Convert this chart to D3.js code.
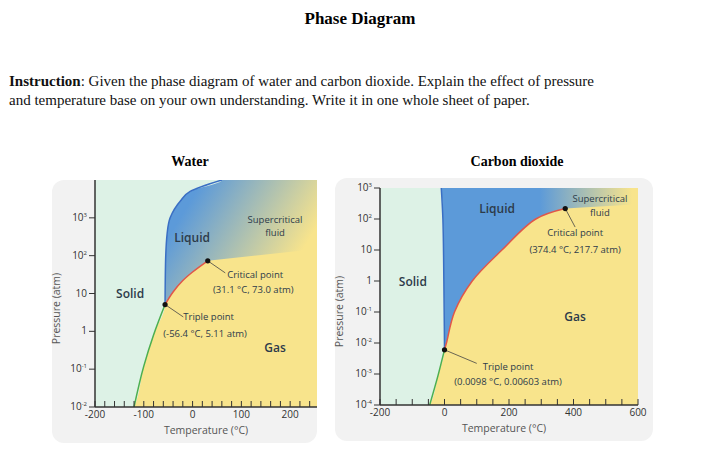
<!DOCTYPE html>
<html><head><meta charset="utf-8">
<script src="https://cdn.jsdelivr.net/npm/d3@7.9.0/dist/d3.min.js"></script>
<style>body{margin:0;background:#fff}svg text{font-family:"Open Sans",sans-serif}</style>
</head><body><svg id="c" width="720" height="476"></svg>
<script>
// left panel ("Water" title, CO2 numbers as in the picture)
const leftSolidGas = [[-120, 0.01], [-100, 0.12], [-80, 0.8], [-56.4, 5.11]];
const leftSolidLiquid = [[-56.4, 5.11], [-55.5, 60], [-52, 400], [-46, 1000], [-25, 2800], [-5, 5000], [60, 10000]];
const leftLiquidGas = [[-56.4, 5.11], [-40, 11], [-20, 22], [0, 37], [31.1, 73]];
const leftSuperEdge = [[255, 150]];
// right panel ("Carbon dioxide" title, water numbers)
const rightSolidGas = [[-46, 0.0001], [-20, 0.0009], [0.0098, 0.00603]];
const rightSolidLiquid = [[0.0098, 0.00603], [-2, 1], [-5, 100], [-10, 1000]];
const rightLiquidGas = [[0.0098, 0.00603], [6, 0.01], [31, 0.1], [86, 1], [178, 10], [283, 100], [374.4, 217.7]];
const rightSuperEdge = [[600, 300]];
const leftXTicks = [-200, -100, 0, 100, 200];
const leftYTicks = [-2, -1, 0, 1, 2, 3];
const rightXTicks = [-200, 0, 200, 400, 600];
const rightYTicks = [-4, -3, -2, -1, 0, 1, 2, 3];

const svg = d3.select('#c');
const C = {solid: '#ddf2e6', gas: '#f8e48c', liquid: '#5c9ad9', text: '#333'};
const defs = svg.append('defs');
function grad(id, x1, y1, x2, y2, stops) {
  const g = defs.append('linearGradient').attr('id', id).attr('x1', x1).attr('y1', y1).attr('x2', x2).attr('y2', y2);
  stops.forEach(([o, c]) => g.append('stop').attr('offset', o).attr('stop-color', c));
}
grad('gL', '0', '0', '1', '0.5', [[0.2, C.liquid], [0.95, C.gas]]);
grad('gR', '0', '0', '1', '0', [[0.5, C.liquid], [0.97, C.gas]]);

svg.append('text').attr('x', 360).attr('y', 24).attr('text-anchor', 'middle')
  .style('font-family', 'Liberation Serif').style('font-weight', 'bold').style('font-size', '17px').text('Phase Diagram');
const ins = svg.append('text').style('font-family', 'Liberation Serif').style('font-size', '15px').attr('fill', '#111');
ins.append('tspan').attr('x', 9).attr('y', 86).style('font-weight', 'bold').text('Instruction');
ins.append('tspan').text(': Given the phase diagram of water and carbon dioxide. Explain the effect of pressure');
ins.append('tspan').attr('x', 9).attr('y', 105).text('and temperature base on your own understanding. Write it in one whole sheet of paper.');

function sup(sel, e) {
  if (e === 0) sel.text('1');
  else if (e === 1) sel.text('10');
  else { sel.text('10'); sel.append('tspan').attr('dy', -4).style('font-size', '6px').text(e); }
}

function panel(o) {
  const g = svg.append('g');
  g.append('rect').attr('x', o.card[0]).attr('y', o.card[1]).attr('width', o.card[2]).attr('height', o.card[3])
    .attr('rx', 12).attr('fill', '#f2f2f2');
  const x = d3.scaleLinear().domain(o.xd).range([o.x0, o.x1]);
  const y = d3.scaleLog().domain(o.yd).range([o.y0, o.y1]);
  const line = d3.line().x(d => x(d[0])).y(d => y(d[1])).curve(d3.curveMonotoneY);
  const lineX = d3.line().x(d => x(d[0])).y(d => y(d[1])).curve(d3.curveCatmullRom);
  const clip = 'cl' + o.id;
  defs.append('clipPath').attr('id', clip).append('rect').attr('x', o.x0).attr('y', o.y1).attr('width', o.x1 - o.x0).attr('height', o.y0 - o.y1);
  const p = g.append('g').attr('clip-path', `url(#${clip})`);
  p.append('rect').attr('x', o.x0).attr('y', o.y1).attr('width', o.x1 - o.x0).attr('height', o.y0 - o.y1).attr('fill', C.gas);
  const top = o.yd[1];
  const liq = lineX(o.lg) + d3.line().x(d => x(d[0])).y(d => y(d[1]))([o.lg[o.lg.length - 1], ...o.edge, [o.xd[1], top], [o.sl[o.sl.length - 1][0], top]]).replace('M', 'L')
    + line(o.sl.slice().reverse()).replace('M', 'L') + 'Z';
  p.append('path').attr('d', liq).attr('fill', `url(#${o.grad})`);
  const sol = [[o.xd[0], o.yd[0]], ...o.sg, ...o.sl.slice(1), [o.xd[0], top]];
  p.append('path').attr('d', d3.line().x(d => x(d[0])).y(d => y(d[1])).curve(d3.curveMonotoneY)(sol)).attr('fill', C.solid);
  p.append('path').attr('d', line(o.sg)).attr('fill', 'none').attr('stroke', '#4caf50').attr('stroke-width', 1.5);
  p.append('path').attr('d', line(o.sl)).attr('fill', 'none').attr('stroke', '#3a6fc4').attr('stroke-width', 1.5);
  p.append('path').attr('d', lineX(o.lg)).attr('fill', 'none').attr('stroke', '#e0574a').attr('stroke-width', 1.5);
  g.append('line').attr('x1', o.x0).attr('x2', o.x0).attr('y1', o.y1).attr('y2', o.y0).attr('stroke', '#333').attr('stroke-width', 1.5);
  g.append('line').attr('x1', o.x0).attr('x2', o.x1).attr('y1', o.y0).attr('y2', o.y0).attr('stroke', '#333').attr('stroke-width', 1.5);
  d3.range(o.xd[0], o.xd[1] + 1, o.minor).forEach(t =>
    g.append('line').attr('x1', x(t)).attr('x2', x(t)).attr('y1', o.y0).attr('y2', o.y0 - 6).attr('stroke', '#333'));
  o.xt.forEach(t => g.append('text').attr('x', x(t)).attr('y', o.y0 + 11).attr('text-anchor', 'middle')
    .style('font-size', '10px').attr('fill', C.text).text(t));
  o.yt.forEach(e => {
    g.append('line').attr('x1', o.x0 - 6).attr('x2', o.x0).attr('y1', y(10 ** e)).attr('y2', y(10 ** e)).attr('stroke', '#333');
    sup(g.append('text').attr('x', o.x0 - 8).attr('y', y(10 ** e) + 3).attr('text-anchor', 'end')
      .style('font-size', '10px').attr('fill', C.text), e);
  });
  g.append('text').attr('x', (o.x0 + o.x1) / 2 + o.xlOff).attr('y', o.y0 + 27).attr('text-anchor', 'middle')
    .style('font-size', '10.5px').attr('fill', '#555').text('Temperature (°C)');
  g.append('text').attr('transform', `translate(${o.ylx},${(o.y0 + o.y1) / 2 + 15}) rotate(-90)`).attr('text-anchor', 'middle')
    .style('font-size', '10.5px').attr('fill', '#555').text('Pressure (atm)');
  g.append('text').attr('x', o.tx).attr('y', 166).attr('text-anchor', 'middle')
    .style('font-family', 'Liberation Serif').style('font-weight', 'bold').style('font-size', '14px').text(o.title);
  o.labels.forEach(l => {
    g.append('text').attr('x', x(l[0])).attr('y', y(l[1])).attr('dy', '0.35em').attr('text-anchor', l[4] || 'middle')
      .style('font-size', l[3] + 'px').style('font-weight', l[3] > 10 ? 600 : 400).attr('fill', '#2d3b4a').text(l[2]);
  });
  o.pts.forEach(pt => {
    g.append('line').attr('x1', x(pt[0][0])).attr('y1', y(pt[0][1])).attr('x2', x(pt[1][0])).attr('y2', y(pt[1][1]))
      .attr('stroke', '#444').attr('stroke-width', 0.8);
    g.append('circle').attr('cx', x(pt[0][0])).attr('cy', y(pt[0][1])).attr('r', 2.6).attr('fill', '#111');
  });
}

panel({id: 'L', title: 'Water', tx: 190, card: [52, 180, 265, 263], xd: [-200, 255], yd: [0.01, 10000],
  x0: 95, x1: 317, y0: 407, y1: 180, sg: leftSolidGas, sl: leftSolidLiquid, lg: leftLiquidGas, edge: leftSuperEdge,
  grad: 'gL', xt: leftXTicks, yt: leftYTicks, minor: 20, xlOff: 0, ylx: 60,
  labels: [[-128, 10, 'Solid', 12], [-1, 300, 'Liquid', 12], [169, 900, 'Supercritical', 9.5], [169, 400, 'fluid', 9.5],
    [71, 32, 'Critical point', 9.5, 'start'], [42, 13, '(31.1 °C, 73.0 atm)', 9.5, 'start'],
    [-19, 2.4, 'Triple point', 9.5, 'start'], [-60, 0.85, '(-56.4 °C, 5.11 atm)', 9.5, 'start'],
    [169, 0.36, 'Gas', 12]],
  pts: [[[31.1, 73], [67, 35]], [[-56.4, 5.11], [-19, 2.4]]]});

panel({id: 'R', title: 'Carbon dioxide', tx: 517, card: [335, 178, 318, 263], xd: [-200, 600], yd: [0.0001, 1000],
  x0: 380, x1: 638, y0: 405, y1: 188, sg: rightSolidGas, sl: rightSolidLiquid, lg: rightLiquidGas, edge: rightSuperEdge,
  grad: 'gR', xt: rightXTicks, yt: rightYTicks, minor: 50, xlOff: -5, ylx: 343,
  labels: [[-98, 0.93, 'Solid', 12], [163, 220, 'Liquid', 12], [482, 450, 'Supercritical', 9.5], [482, 155, 'fluid', 9.5],
    [405, 35, 'Critical point', 9.5], [405, 10, '(374.4 °C, 217.7 atm)', 9.5],
    [197, 0.0017, 'Triple point', 9.5], [197, 0.00055, '(0.0098 °C, 0.00603 atm)', 9.5],
    [405, 0.07, 'Gas', 12]],
  pts: [[[374.4, 217.7], [405, 55]], [[0.0098, 0.00603], [100, 0.0022]]]});
</script></body></html>
